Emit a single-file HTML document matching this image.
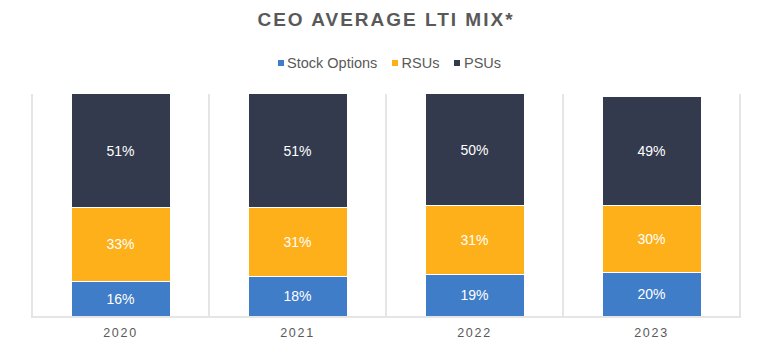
<!DOCTYPE html>
<html><head><meta charset="utf-8"><style>
html,body{margin:0;padding:0;background:#fff;}
body{width:768px;height:346px;position:relative;overflow:hidden;font-family:"Liberation Sans",sans-serif;}
</style></head><body>
<div style="position:absolute;left:31.00px;top:94px;width:2px;height:223px;background:#e5e5e5"></div>
<div style="position:absolute;left:208.00px;top:94px;width:2px;height:223px;background:#e5e5e5"></div>
<div style="position:absolute;left:385.00px;top:94px;width:2px;height:223px;background:#e5e5e5"></div>
<div style="position:absolute;left:562.00px;top:94px;width:2px;height:223px;background:#e5e5e5"></div>
<div style="position:absolute;left:739.00px;top:94px;width:2px;height:223px;background:#e5e5e5"></div>
<div style="position:absolute;left:31px;top:316px;width:710px;height:2px;background:#e5e5e5"></div>
<div style="position:absolute;left:71.50px;top:94.00px;width:98.0px;height:113.50px;background:#333a4e"></div>
<div style="position:absolute;left:71.50px;top:207.50px;width:98.0px;height:73.90px;background:#fdb01a"></div>
<div style="position:absolute;left:71.50px;top:281.40px;width:98.0px;height:34.60px;background:#3f7dc9"></div>
<div style="position:absolute;left:71.50px;top:206.90px;width:98.0px;height:1.2px;background:#fff"></div>
<div style="position:absolute;left:71.50px;top:280.80px;width:98.0px;height:1.2px;background:#fff"></div>
<div style="position:absolute;left:80.50px;top:142.75px;width:80px;height:16px;line-height:16px;text-align:center;color:#fff;font-size:14px">51%</div>
<div style="position:absolute;left:80.50px;top:236.45px;width:80px;height:16px;line-height:16px;text-align:center;color:#fff;font-size:14px">33%</div>
<div style="position:absolute;left:80.50px;top:290.70px;width:80px;height:16px;line-height:16px;text-align:center;color:#fff;font-size:14px">16%</div>
<div style="position:absolute;left:80.50px;top:324.60px;width:80px;height:16px;line-height:16px;text-align:center;color:#595959;font-size:12.5px;letter-spacing:1.7px">2020</div>
<div style="position:absolute;left:248.50px;top:94.00px;width:98.0px;height:113.60px;background:#333a4e"></div>
<div style="position:absolute;left:248.50px;top:207.60px;width:98.0px;height:69.00px;background:#fdb01a"></div>
<div style="position:absolute;left:248.50px;top:276.60px;width:98.0px;height:39.40px;background:#3f7dc9"></div>
<div style="position:absolute;left:248.50px;top:207.00px;width:98.0px;height:1.2px;background:#fff"></div>
<div style="position:absolute;left:248.50px;top:276.00px;width:98.0px;height:1.2px;background:#fff"></div>
<div style="position:absolute;left:257.50px;top:142.80px;width:80px;height:16px;line-height:16px;text-align:center;color:#fff;font-size:14px">51%</div>
<div style="position:absolute;left:257.50px;top:234.10px;width:80px;height:16px;line-height:16px;text-align:center;color:#fff;font-size:14px">31%</div>
<div style="position:absolute;left:257.50px;top:288.30px;width:80px;height:16px;line-height:16px;text-align:center;color:#fff;font-size:14px">18%</div>
<div style="position:absolute;left:257.50px;top:324.60px;width:80px;height:16px;line-height:16px;text-align:center;color:#595959;font-size:12.5px;letter-spacing:1.7px">2021</div>
<div style="position:absolute;left:425.50px;top:94.40px;width:98.0px;height:110.90px;background:#333a4e"></div>
<div style="position:absolute;left:425.50px;top:205.30px;width:98.0px;height:69.10px;background:#fdb01a"></div>
<div style="position:absolute;left:425.50px;top:274.40px;width:98.0px;height:41.60px;background:#3f7dc9"></div>
<div style="position:absolute;left:425.50px;top:204.70px;width:98.0px;height:1.2px;background:#fff"></div>
<div style="position:absolute;left:425.50px;top:273.80px;width:98.0px;height:1.2px;background:#fff"></div>
<div style="position:absolute;left:434.50px;top:141.85px;width:80px;height:16px;line-height:16px;text-align:center;color:#fff;font-size:14px">50%</div>
<div style="position:absolute;left:434.50px;top:231.85px;width:80px;height:16px;line-height:16px;text-align:center;color:#fff;font-size:14px">31%</div>
<div style="position:absolute;left:434.50px;top:287.20px;width:80px;height:16px;line-height:16px;text-align:center;color:#fff;font-size:14px">19%</div>
<div style="position:absolute;left:434.50px;top:324.60px;width:80px;height:16px;line-height:16px;text-align:center;color:#595959;font-size:12.5px;letter-spacing:1.7px">2022</div>
<div style="position:absolute;left:602.50px;top:96.80px;width:98.0px;height:108.50px;background:#333a4e"></div>
<div style="position:absolute;left:602.50px;top:205.30px;width:98.0px;height:66.90px;background:#fdb01a"></div>
<div style="position:absolute;left:602.50px;top:272.20px;width:98.0px;height:43.80px;background:#3f7dc9"></div>
<div style="position:absolute;left:602.50px;top:204.70px;width:98.0px;height:1.2px;background:#fff"></div>
<div style="position:absolute;left:602.50px;top:271.60px;width:98.0px;height:1.2px;background:#fff"></div>
<div style="position:absolute;left:611.50px;top:143.05px;width:80px;height:16px;line-height:16px;text-align:center;color:#fff;font-size:14px">49%</div>
<div style="position:absolute;left:611.50px;top:230.75px;width:80px;height:16px;line-height:16px;text-align:center;color:#fff;font-size:14px">30%</div>
<div style="position:absolute;left:611.50px;top:286.10px;width:80px;height:16px;line-height:16px;text-align:center;color:#fff;font-size:14px">20%</div>
<div style="position:absolute;left:611.50px;top:324.60px;width:80px;height:16px;line-height:16px;text-align:center;color:#595959;font-size:12.5px;letter-spacing:1.7px">2023</div>
<div style="position:absolute;left:2px;top:8.8px;width:768px;height:22px;line-height:22px;text-align:center;color:#595959;font-size:19px;font-weight:bold;letter-spacing:2px;white-space:pre">CEO AVERAGE LTI MIX*</div>
<div style="position:absolute;left:278px;top:60px;width:6px;height:6px;background:#3f7dc9"></div>
<div style="position:absolute;left:287px;top:54.6px;height:16px;line-height:16px;color:#595959;font-size:14.5px;white-space:pre">Stock Options</div>
<div style="position:absolute;left:392px;top:60px;width:6px;height:6px;background:#fdb01a"></div>
<div style="position:absolute;left:401.6px;top:54.6px;height:16px;line-height:16px;color:#595959;font-size:14.5px;white-space:pre">RSUs</div>
<div style="position:absolute;left:454.2px;top:60px;width:6px;height:6px;background:#333a4e"></div>
<div style="position:absolute;left:464px;top:54.6px;height:16px;line-height:16px;color:#595959;font-size:14.5px;white-space:pre">PSUs</div>
</body></html>
